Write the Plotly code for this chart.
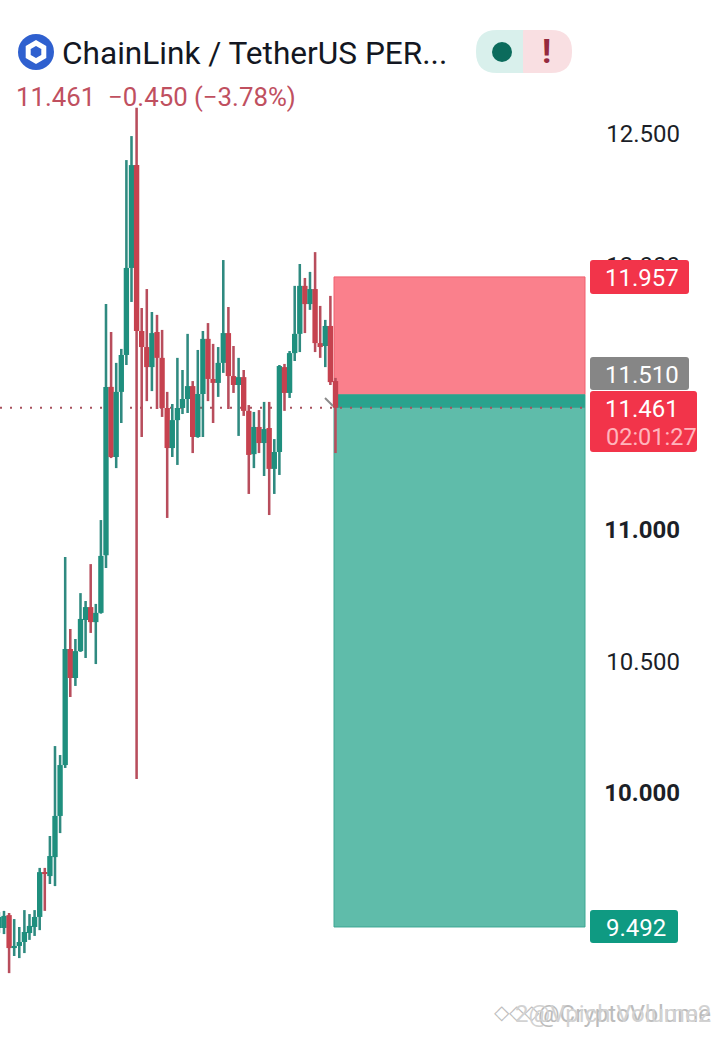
import math
import plotly.graph_objects as go

W, H = 719, 1038
FONT = "Roboto"

# prices
opens = [9.488, 9.488, 9.537, 9.412, 9.420, 9.435, 9.469, 9.492, 9.530, 9.700,
         9.685, 9.757, 9.913, 10.106, 10.546, 10.436, 10.538, 10.656, 10.705, 10.648,
         10.683, 10.902, 11.540, 11.274, 11.521, 11.661, 11.991, 12.381, 11.752, 11.691,
         11.615, 11.748, 11.650, 11.460, 11.308, 11.414, 11.460, 11.494, 11.543, 11.350,
         11.513, 11.722, 11.570, 11.555, 11.631, 11.744, 11.581, 11.547, 11.577, 11.449,
         11.285, 11.388, 11.327, 11.384, 11.229, 11.293, 11.615, 11.517, 11.668, 11.741,
         11.923, 11.854, 11.911, 11.706, 11.695, 11.771, 11.562]
highs = [9.549, 9.553, 9.545, 9.522, 9.492, 9.556, 9.541, 9.556, 9.716, 9.716,
         9.837, 10.178, 10.144, 10.895, 10.622, 10.584, 10.758, 10.728, 10.868, 10.717,
         11.035, 11.854, 11.748, 11.631, 11.684, 12.400, 12.491, 12.598, 11.839, 11.911,
         11.824, 11.813, 11.756, 11.521, 11.475, 11.650, 11.604, 11.741, 11.562, 11.680,
         11.752, 11.782, 11.703, 11.691, 12.021, 11.843, 11.695, 11.650, 11.604, 11.471,
         11.445, 11.452, 11.483, 11.483, 11.342, 11.623, 11.627, 11.676, 11.923, 12.006,
         11.953, 11.976, 12.051, 11.847, 11.794, 11.885, 11.574]
lows = [9.469, 9.465, 9.317, 9.382, 9.374, 9.393, 9.443, 9.458, 9.480, 9.553,
        9.655, 9.647, 9.848, 10.095, 10.364, 10.406, 10.535, 10.512, 10.607, 10.489,
        10.680, 10.853, 11.270, 11.232, 11.403, 11.623, 11.862, 10.053, 11.350, 11.486,
        11.524, 11.456, 11.426, 11.043, 11.274, 11.244, 11.437, 11.441, 11.289, 11.347,
        11.350, 11.486, 11.403, 11.502, 11.593, 11.456, 11.517, 11.354, 11.430, 11.134,
        11.232, 11.289, 11.202, 11.054, 11.134, 11.206, 11.449, 11.498, 11.638, 11.672,
        11.744, 11.832, 11.672, 11.650, 11.615, 11.547, 11.289]
closes = [9.530, 9.534, 9.412, 9.420, 9.435, 9.473, 9.496, 9.530, 9.700, 9.693,
          9.761, 9.913, 10.106, 10.546, 10.436, 10.538, 10.660, 10.705, 10.648, 10.683,
          10.899, 11.540, 11.274, 11.521, 11.661, 11.991, 12.381, 11.752, 11.691, 11.615,
          11.744, 11.650, 11.460, 11.308, 11.414, 11.460, 11.494, 11.543, 11.350, 11.513,
          11.722, 11.570, 11.555, 11.631, 11.744, 11.581, 11.547, 11.577, 11.449, 11.282,
          11.388, 11.327, 11.380, 11.229, 11.293, 11.619, 11.517, 11.668, 11.741, 11.923,
          11.854, 11.911, 11.706, 11.691, 11.771, 11.558, 11.461]

tick_vals = [10.0, 10.5, 11.0, 12.0, 12.5]
tick_text = ["<b>10.000</b>", "10.500", "<b>11.000</b>", "12.000", "12.500"]

stop_price = 11.957
entry_price = 11.510
last_price = 11.461
target_price = 9.492

GREEN = "#1f8f7e"
RED = "#c6424f"
GREEN_WICK = "#2f8a80"
RED_WICK = "#b84d5c"


def px(x):
    return x / W


def py(y):
    return 1 - y / H


def pill(x0, y0, x1, y1, rl=3, rr=3):
    # rounded box, in screen pixels, as a paper-coord svg path
    p = [
        f"M{px(x0 + rl)},{py(y0)}", f"L{px(x1 - rr)},{py(y0)}",
        f"Q{px(x1)},{py(y0)} {px(x1)},{py(y0 + rr)}", f"L{px(x1)},{py(y1 - rr)}",
        f"Q{px(x1)},{py(y1)} {px(x1 - rr)},{py(y1)}", f"L{px(x0 + rl)},{py(y1)}",
        f"Q{px(x0)},{py(y1)} {px(x0)},{py(y1 - rl)}", f"L{px(x0)},{py(y0 + rl)}",
        f"Q{px(x0)},{py(y0)} {px(x0 + rl)},{py(y0)}", "Z",
    ]
    return "".join(p)


def hexagon(cx, cy, r):
    pts = [(cx + r * math.sin(k * math.pi / 3), cy - r * math.cos(k * math.pi / 3)) for k in range(6)]
    return "M" + "L".join(f"{px(a)},{py(b)}" for a, b in pts) + "Z"


def box(x0, y0, x1, y1, color):
    return dict(type="path", xref="paper", yref="paper", path=pill(x0, y0, x1, y1),
                fillcolor=color, line=dict(width=0), layer="above")


def label(x, y, text, color="#ffffff", size=24, anchor="right"):
    return dict(xref="paper", yref="paper", x=px(x), y=py(y), text=text, showarrow=False,
                xanchor=anchor, yanchor="middle", font=dict(family=FONT, size=size, color=color),
                borderpad=0, borderwidth=0)


idx = list(range(len(opens)))
up = [c >= o for o, c in zip(opens, closes)]

fig = go.Figure()
# go.Candlestick won't give wide enough bodies at this spacing, so two bar layers
fig.add_trace(go.Bar(
    x=idx, base=lows, y=[h - l for h, l in zip(highs, lows)], width=0.5,
    marker=dict(color=[GREEN_WICK if u else RED_WICK for u in up], line=dict(width=0)),
    hoverinfo="skip",
))
fig.add_trace(go.Bar(
    x=idx, base=[min(o, c) for o, c in zip(opens, closes)],
    y=[abs(c - o) for o, c in zip(opens, closes)], width=1.05,
    marker=dict(color=[GREEN if u else RED for u in up], line=dict(width=0)),
    hoverinfo="skip",
))

shapes = [
    # position tool
    dict(type="rect", xref="paper", yref="y", x0=px(334), x1=px(585), y0=entry_price, y1=stop_price,
         fillcolor="#fa808c", line=dict(color="#f0606e", width=1), layer="below"),
    dict(type="rect", xref="paper", yref="y", x0=px(334), x1=px(585), y0=target_price, y1=entry_price,
         fillcolor="#5fbcaa", line=dict(color="#3ea793", width=1), layer="below"),
    dict(type="rect", xref="paper", yref="y", x0=px(334), x1=px(585), y0=last_price, y1=entry_price,
         fillcolor="#2aa28d", line=dict(width=0), layer="below"),
    # last price line
    dict(type="line", xref="paper", yref="y", x0=0, x1=px(590), y0=last_price, y1=last_price,
         line=dict(color="#a8505c", width=2, dash="2px,8px"), layer="below"),
    dict(type="line", xref="paper", yref="paper", x0=px(325), y0=py(398), x1=px(333), y1=py(406),
         line=dict(color="#8a8a8a", width=2), layer="above"),
    # price labels
    box(590, 260, 689, 294, "#f2344a"),
    box(590, 357, 689, 390, "#868686"),
    box(590, 391, 697, 452, "#f2344a"),
    box(590, 910, 678, 943, "#0f9a82"),
    # header icon
    dict(type="circle", xref="paper", yref="paper", x0=px(18), x1=px(54), y0=py(70), y1=py(34),
         fillcolor="#2f60cf", line=dict(width=0), layer="above"),
    dict(type="path", xref="paper", yref="paper", path=hexagon(36, 52, 9),
         fillcolor="#2f60cf", line=dict(color="#ffffff", width=5), layer="above"),
    # status pill
    dict(type="path", xref="paper", yref="paper", path=pill(476, 30, 545, 73, rl=21, rr=1),
         fillcolor="#d9f0ec", line=dict(width=0), layer="above"),
    dict(type="path", xref="paper", yref="paper", path=pill(523, 30, 572, 73, rl=1, rr=21),
         fillcolor="#f9dfe2", line=dict(width=0), layer="above"),
    dict(type="circle", xref="paper", yref="paper", x0=px(492), x1=px(512), y0=py(62), y1=py(42),
         fillcolor="#0b6b5c", line=dict(width=0), layer="above"),
]

annotations = [
    label(62, 53, "ChainLink / TetherUS PER...", color="#131722", size=31.6, anchor="left"),
    label(16, 97, "11.461  −0.450 (−3.78%)", color="#c0505f", size=25.8, anchor="left"),
    label(546, 51, "<b>!</b>", color="#952a3e", size=34, anchor="center"),
    label(679, 278, "11.957"),
    label(679, 375, "11.510"),
    label(679, 409, "11.461"),
    label(697, 437, "02:01:27", color="#ffb4bc", size=23.5),
    label(666, 928, "9.492"),
    # watermark, two copies on top of each other
    label(494, 1012, "◇◇◇", color="#bdbdbd", size=20, anchor="left"),
    label(711, 1014, "@CryptoVolume", color="#bcbcbc", size=24, anchor="right"),
    label(711, 1014, "2@Vpich Volume2", color="#d2d2d2", size=24, anchor="right"),
]

fig.update_layout(
    width=W, height=H, autosize=False,
    margin=dict(l=0, r=0, t=0, b=0),
    paper_bgcolor="#ffffff", plot_bgcolor="#ffffff",
    showlegend=False, barmode="overlay",
    xaxis=dict(range=[0.216, 141.2], visible=False, fixedrange=True),
    yaxis=dict(range=[9.071, 13.007], side="right", anchor="free", position=px(683),
               showgrid=False, zeroline=False, showline=False, ticks="",
               ticklabelposition="inside", tickmode="array",
               tickvals=tick_vals, ticktext=tick_text,
               tickfont=dict(family=FONT, size=24, color="#1c1f28"), fixedrange=True),
    shapes=shapes, annotations=annotations,
)

fig.write_html("out.html", config=dict(displayModeBar=False),
               post_script="document.body.style.margin='0';document.body.style.overflow='hidden';")
